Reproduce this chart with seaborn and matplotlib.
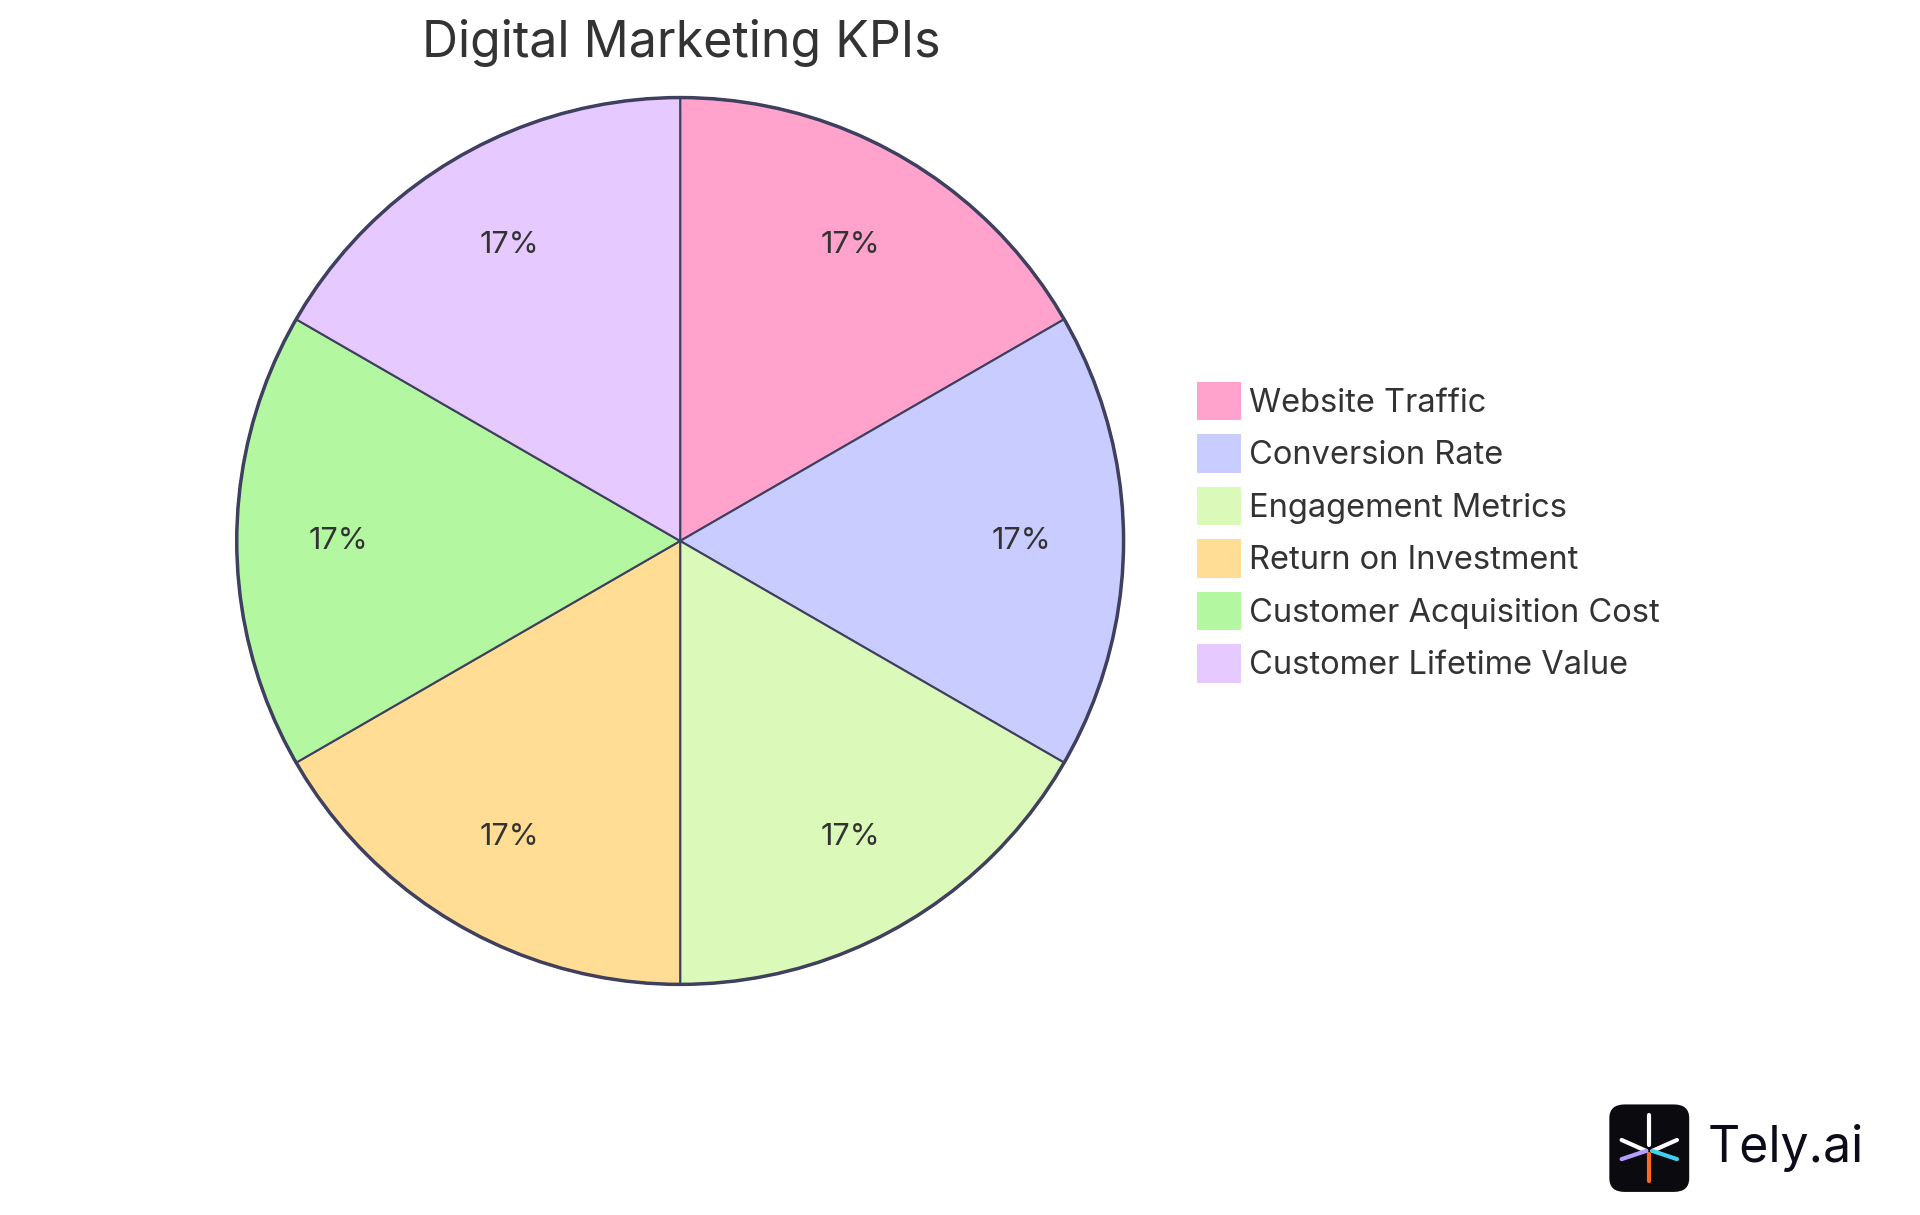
import matplotlib
matplotlib.use("Agg")
import matplotlib.pyplot as plt
import seaborn as sns
from matplotlib.patches import Patch, FancyBboxPatch

categories = ["Website Traffic", "Conversion Rate", "Engagement Metrics",
              "Return on Investment", "Customer Acquisition Cost", "Customer Lifetime Value"]
values = [1, 1, 1, 1, 1, 1]
colors = ["#FFA3CD", "#C9CCFF", "#DBF9B8", "#FFDD94", "#B3F7A0", "#E6C9FF"]

sns.set_theme(style="white")
plt.rcParams['font.family'] = ['Inter', 'DejaVu Sans']

fig = plt.figure(figsize=(19.2, 12.15), dpi=100)
fig.patch.set_facecolor("white")

ax = fig.add_axes([0.121, 0.186, 0.4665, 0.7375])
wedges, texts, autotexts = ax.pie(
    values, colors=colors, startangle=90, counterclock=False,
    autopct="%1.0f%%", pctdistance=0.77,
    wedgeprops=dict(edgecolor="#3F3F5F", linewidth=1.5),
    textprops=dict(fontsize=22, color="#333333"))
circle = plt.Circle((0, 0), 1, fill=False, edgecolor="#3F3F5F", linewidth=2.5)
ax.add_patch(circle)
ax.set_xlim(-1.01, 1.01)
ax.set_ylim(-1.01, 1.01)
ax.set_aspect("equal")

fig.text(0.355, 0.965, "Digital Marketing KPIs", ha="center", va="center",
         fontsize=36, color="#333333")

handles = [Patch(facecolor=c, edgecolor="none") for c in colors]
fig.legend(handles, categories, loc="upper left", bbox_to_anchor=(0.608, 0.71),
           frameon=False, fontsize=23.5, labelcolor="#333333",
           handlelength=1.35, handleheight=1.45, handletextpad=0.25, labelspacing=0.42)

# logo
lax = fig.add_axes([0.835, 0.01, 0.16, 0.09])
lax.set_xlim(0, 10)
lax.set_ylim(0, 4)
lax.axis("off")
lax.add_patch(FancyBboxPatch((0.2, 0.4), 2.6, 3.2, boxstyle="round,pad=0,rounding_size=0.5",
                             facecolor="#0B0B0F", edgecolor="none"))
lax.plot([1.5, 1.5], [2.1, 3.2], color="white", lw=3)
lax.plot([1.5, 1.5], [0.8, 1.8], color="#FF6A1A", lw=3)
lax.plot([0.6, 1.4], [2.3, 1.9], color="white", lw=3)
lax.plot([0.6, 1.4], [1.6, 1.9], color="#B69CFF", lw=3)
lax.plot([1.6, 2.4], [1.9, 2.3], color="white", lw=3)
lax.plot([1.6, 2.4], [1.9, 1.6], color="#3FD0F0", lw=3)
lax.text(3.4, 2.0, "Tely.ai", fontsize=36, va="center", ha="left", color="#0B0B1A")

fig.savefig("out.png", dpi=100, facecolor="white")
